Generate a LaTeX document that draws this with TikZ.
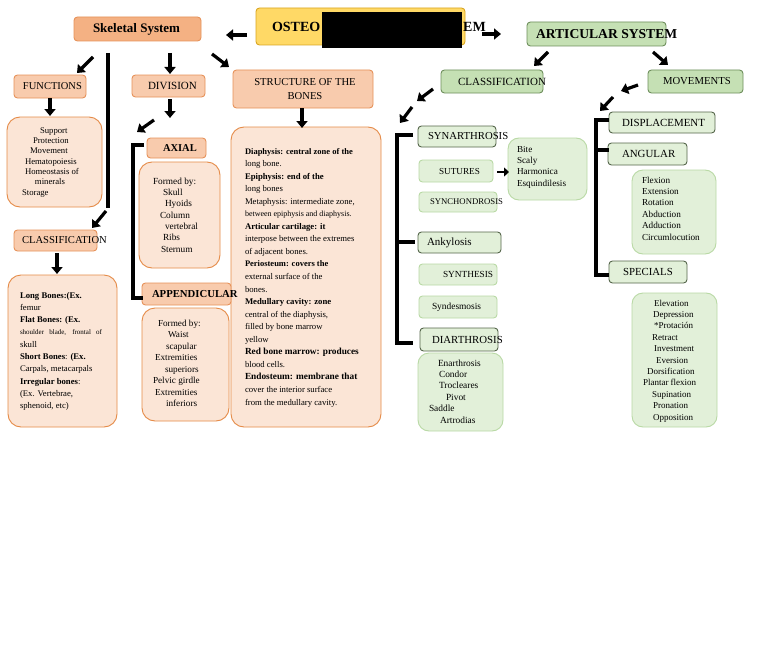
\documentclass[tikz,border=0pt]{standalone}
\usepackage{fontspec}
\setmainfont{Liberation Serif}
\usetikzlibrary{arrows.meta}
\definecolor{salD}{HTML}{F4B183}
\definecolor{salM}{HTML}{F8CBAD}
\definecolor{salL}{HTML}{FBE5D6}
\definecolor{oB}{HTML}{E6925A}
\definecolor{oC}{HTML}{E58B48}
\definecolor{yel}{HTML}{FFD966}
\definecolor{yB}{HTML}{D9A520}
\definecolor{grM}{HTML}{C5E0B4}
\definecolor{grL}{HTML}{E2F0D9}
\definecolor{gB}{HTML}{6E8F5C}
\definecolor{gK}{HTML}{55664B}
\definecolor{gS}{HTML}{B9D9A5}
\newcommand\fs[1]{\fontsize{#1}{#1}\selectfont}
\newcommand\bx[8]{%
  \node[#2, minimum width={(#5-#3)*1pt}, minimum height={(#6-#4)*1pt}] (#1) at ({(#3+#5)/2},{(#4+#6)/2}) {};
  \node[anchor=west] (#1t) at (#7,{(#4+#6)/2}) {#8};}
\newcommand\cbx[6]{%
  \node[#2, minimum width={(#5-#3)*1pt}, minimum height={(#6-#4)*1pt}] (#1) at ({(#3+#5)/2},{(#4+#6)/2}) {};}
\tikzset{
  box/.style={rounded corners=3.5pt, line width=0.9pt},
  hS/.style={box, draw=oB, fill=salD},
  hO/.style={box, draw=oB, fill=salM},
  cO/.style={rounded corners=13pt, line width=0.9pt, draw=oC, fill=salL},
  hY/.style={box, draw=yB, fill=yel},
  hG/.style={box, draw=gB, fill=grM},
  kG/.style={box, draw=gK, fill=grL},
  sG/.style={box, draw=gS, fill=grL},
  cG/.style={rounded corners=11pt, line width=0.9pt, draw=gS, fill=grL},
  ar/.style={line width=3.2pt, -{Triangle[length=7pt,width=11pt]}},
  br/.style={line width=3.2pt},
  lst/.style={anchor=base west, align=left}
}
\begin{document}
\begin{tikzpicture}[x=1pt,y=-1pt, every node/.style={inner sep=0pt,outer sep=0pt}]
\fill[white] (0,0) rectangle (768,669);
\useasboundingbox (0,0) rectangle (768,669);

% ---- title ----
\cbx{title}{hY}{256}{8}{465}{45}
\node[anchor=base west, font=\fs{14}\bfseries] (titlet) at (272,32) {OSTEO\hspace{143pt}EM};
\fill[black] (322,12) rectangle (462,48);

% ---- skeletal side ----
\bx{skel}{hS}{74}{17}{201}{41}{93}{\fs{13}\bfseries Skeletal System}
\bx{funct}{hO}{14}{75}{86}{98}{23}{\fs{10.5}FUNCTIONS}
\bx{divis}{hO}{132}{75}{205}{97}{148}{\fs{11}DIVISION}
\cbx{struct}{hO}{233}{70}{373}{108}
\node[align=center, font=\fontsize{10.6}{14}\selectfont] (structt) at (305,89) {STRUCTURE OF THE\\BONES};
\bx{classL}{hO}{14}{230}{97}{251}{22}{\fs{10.6}CLASSIFICATION}
\bx{axial}{hO}{147}{138}{206}{158}{163}{\fs{10.5}\bfseries AXIAL}

\cbx{cFunct}{cO}{7}{117}{102}{207}
\cbx{cAxial}{cO}{139}{162}{220}{268}
\cbx{cAppend}{cO}{142}{308}{229}{421}
\cbx{cClass}{cO}{8}{275}{117}{427}
\cbx{cStruct}{cO}{231}{127}{381}{427}
\bx{append}{hO}{142}{283}{231}{305}{152}{\fs{10.7}\bfseries APPENDICULAR}

% (multi-line lists: anchor is the baseline of the last line)
\node[lst, font=\fontsize{8.7}{10.3}\selectfont] (functl) at (22,195)
 {\hspace*{18pt}Support\\\hspace*{11pt}Protection\\\hspace*{8pt}Movement\\\hspace*{3pt}Hematopoiesis\\\hspace*{3pt}Homeostasis of\\\hspace*{13pt}minerals\\Storage};
\node[lst, font=\fontsize{9.3}{11.3}\selectfont] (axiall) at (153,252)
 {Formed by:\\\hspace*{10pt}Skull\\\hspace*{12pt}Hyoids\\\hspace*{7pt}Column\\\hspace*{12pt}vertebral\\\hspace*{10pt}Ribs\\\hspace*{8pt}Sternum};
\node[lst, font=\fontsize{9.2}{11.5}\selectfont] (appendl) at (153,406.5)
 {\hspace*{5pt}Formed by:\\\hspace*{15pt}Waist\\\hspace*{13pt}scapular\\\hspace*{2pt}Extremities\\\hspace*{12pt}superiors\\Pelvic girdle\\\hspace*{2pt}Extremities\\\hspace*{13pt}inferiors};
\node[lst, font=\fontsize{8.7}{12.3}\selectfont] (classl) at (20,408.7)
 {\textbf{Long Bones:(Ex.}\\femur\\\textbf{Flat Bones: (Ex.}\\{\fontsize{7}{7}\selectfont\makebox[82pt][s]{shoulder blade, frontal of}}\\skull\\\textbf{Short Bones}: \textbf{(Ex.}\\Carpals, metacarpals\\\textbf{Irregular bones}:\\(Ex. Vertebrae,\\sphenoid, etc)};
\node[lst, font=\fontsize{8.7}{12.55}\selectfont] (structl) at (245,405)
 {{\fontsize{8.5}{8.5}\selectfont\textbf{Diaphysis: central zone of the}}\\long bone.\\\textbf{Epiphysis: end of the}\\long bones\\Metaphysis: intermediate zone,\\{\fontsize{8}{8}\selectfont between epiphysis and diaphysis.}\\\textbf{Articular cartilage: it}\\interpose between the extremes\\of adjacent bones.\\{\fontsize{8.5}{8.5}\selectfont\textbf{Periosteum: covers the}}\\external surface of the\\bones.\\\textbf{Medullary cavity: zone}\\central of the diaphysis,\\filled by bone marrow\\yellow\\{\fontsize{9.3}{9.3}\selectfont\textbf{Red bone marrow: produces}}\\blood cells.\\{\fontsize{9.3}{9.3}\selectfont\textbf{Endosteum: membrane that}}\\cover the interior surface\\from the medullary cavity.};

% ---- articular side ----
\bx{artic}{hG}{527}{22}{666}{46}{536}{\fs{13.6}\bfseries ARTICULAR SYSTEM}
\bx{classR}{hG}{441}{70}{543}{93}{458}{\fs{11}CLASSIFICATION}
\bx{movem}{hG}{648}{70}{743}{93}{663}{\fs{10.7}MOVEMENTS}
\bx{synar}{kG}{418}{126}{496}{147}{428}{\fs{10.7}SYNARTHROSIS}
\bx{sut}{sG}{419}{160}{493}{182}{439}{\fs{9.2}SUTURES}
\bx{synch}{sG}{419}{192}{497}{212}{430}{\fs{8.7}SYNCHONDROSIS}
\bx{anky}{kG}{418}{232}{501}{253}{427}{\fs{11}Ankylosis}
\bx{synth}{sG}{419}{264}{497}{285}{443}{\fs{9.3}SYNTHESIS}
\bx{synd}{sG}{419}{296}{497}{318}{432}{\fs{9.4}Syndesmosis}
\bx{diar}{kG}{420}{328}{498}{351}{432}{\fs{10.8}DIARTHROSIS}
\cbx{cBite}{cG}{508}{138}{587}{200}
\cbx{cDiar}{cG}{418}{353}{503}{431}
\bx{disp}{kG}{609}{112}{715}{133}{622}{\fs{10.9}DISPLACEMENT}
\bx{angu}{kG}{608}{143}{687}{165}{622}{\fs{10.9}ANGULAR}
\bx{spec}{kG}{609}{261}{687}{283}{623}{\fs{10.8}SPECIALS}
\cbx{cAng}{cG}{632}{170}{716}{254}
\cbx{cSpec}{cG}{632}{293}{717}{427}

\node[lst, font=\fontsize{9.2}{11.4}\selectfont] (bitel) at (517,186.2)
 {Bite\\Scaly\\Harmonica\\Esquindilesis};
\node[lst, font=\fontsize{9.4}{11.4}\selectfont] (diarl) at (429,423)
 {\hspace*{9pt}Enarthrosis\\\hspace*{10pt}Condor\\\hspace*{10pt}Trocleares\\\hspace*{17pt}Pivot\\Saddle\\\hspace*{11pt}Artrodias};
\node[lst, font=\fontsize{9.2}{11.4}\selectfont] (angl) at (642,240)
 {Flexion\\Extension\\Rotation\\Abduction\\Adduction\\Circumlocution};
\node[lst, font=\fontsize{9}{11.4}\selectfont] (specl) at (643,420)
 {\hspace*{11pt}Elevation\\\hspace*{10pt}Depression\\\hspace*{11pt}*Protación\\\hspace*{9pt}Retract\\\hspace*{11pt}Investment\\\hspace*{13pt}Eversion\\\hspace*{4pt}Dorsification\\Plantar flexion\\\hspace*{9pt}Supination\\\hspace*{10pt}Pronation\\\hspace*{10pt}Opposition};

% ---- arrow end points ----
\coordinate (a1s) at (247,35);  \coordinate (a1e) at (226,35);
\coordinate (a2s) at (482,34);  \coordinate (a2e) at (501,34);
\coordinate (a3s) at (93,57);   \coordinate (a3e) at (77,73);
\coordinate (a4s) at (170,53);  \coordinate (a4e) at (170,74);
\coordinate (a5s) at (212,54);  \coordinate (a5e) at (229,67);
\coordinate (a6s) at (50,98);   \coordinate (a6e) at (50,116);
\coordinate (a7s) at (108,53);  \coordinate (a7m) at (108,208);
\coordinate (a7b) at (106,211); \coordinate (a7e) at (92,228);
\coordinate (a8s) at (170,99);  \coordinate (a8e) at (170,118);
\coordinate (a9s) at (154,120); \coordinate (a9e) at (137,132);
\coordinate (a10s) at (302,108); \coordinate (a10e) at (302,128);
\coordinate (a11s) at (57,253); \coordinate (a11e) at (57,274);
\coordinate (a12s) at (548,52); \coordinate (a12e) at (534,66);
\coordinate (a13s) at (653,52); \coordinate (a13e) at (668,65);
\coordinate (a14s) at (433,89); \coordinate (a14e) at (417,101);
\coordinate (a15s) at (412,107); \coordinate (a15e) at (400,123);
\coordinate (a16s) at (638,85); \coordinate (a16e) at (621,91);
\coordinate (a17s) at (613,97); \coordinate (a17e) at (600,111);
\coordinate (a18s) at (497,172); \coordinate (a18e) at (509,172);

\draw[ar] (a1s) -- (a1e);
\draw[ar] (a2s) -- (a2e);
\draw[ar] (a3s) -- (a3e);
\draw[ar] (a4s) -- (a4e);
\draw[ar] (a5s) -- (a5e);
\draw[ar] (a6s) -- (a6e);
\draw[br] (a7s) -- (a7m);
\draw[ar] (a7b) -- (a7e);
\draw[ar] (a8s) -- (a8e);
\draw[ar] (a9s) -- (a9e);
\draw[ar] (a10s) -- (a10e);
\draw[ar] (a11s) -- (a11e);
\draw[ar] (a12s) -- (a12e);
\draw[ar] (a13s) -- (a13e);
\draw[ar] (a14s) -- (a14e);
\draw[ar] (a15s) -- (a15e);
\draw[ar] (a16s) -- (a16e);
\draw[ar] (a17s) -- (a17e);
\draw[line width=2.4pt, -{Triangle[length=5pt,width=9pt]}] (a18s) -- (a18e);

% ---- brackets ----
\draw[br] (144,145) -- (133,145) -- (133,298) -- (143,298);
\draw[br] (413,135) -- (397,135) -- (397,343) -- (413,343);
\draw[br] (397,242) -- (415,242);
\draw[br] (609,120) -- (596,120) -- (596,275) -- (609,275);
\draw[br] (596,150) -- (609,150);
\end{tikzpicture}
\end{document}
